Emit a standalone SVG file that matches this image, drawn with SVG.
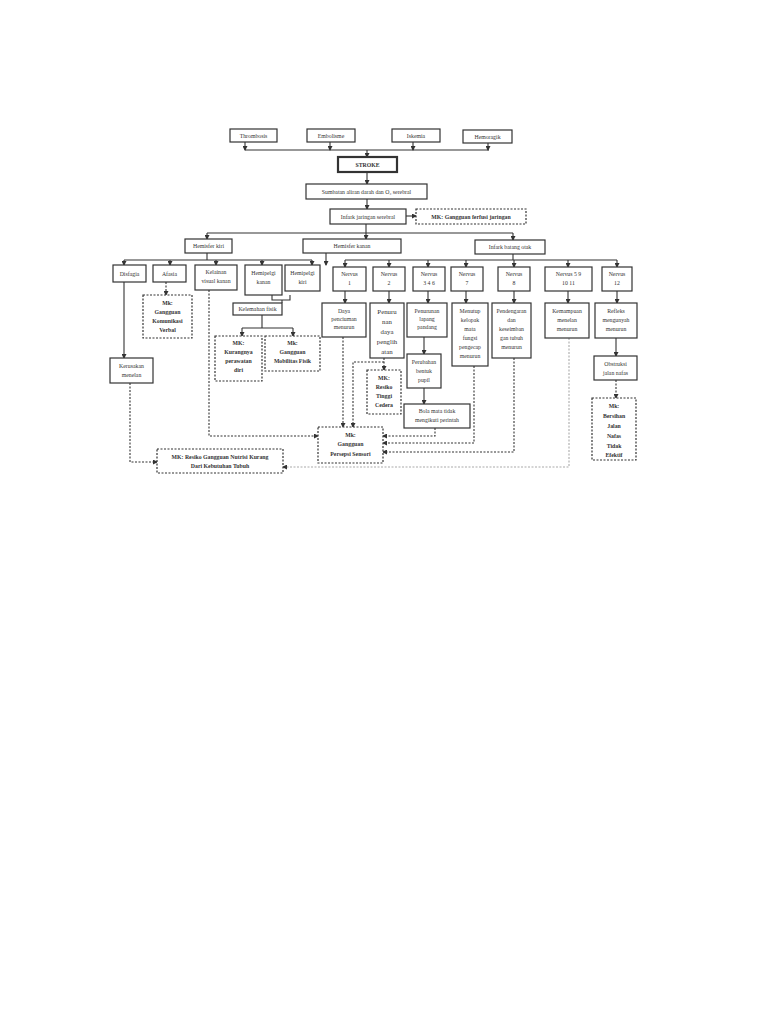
<svg xmlns="http://www.w3.org/2000/svg" width="768" height="1024" viewBox="0 0 768 1024">
<style>
rect{fill:#fff;stroke:#333;stroke-width:1.2}
rect.d{stroke-dasharray:2,1.5}
rect.t{stroke-width:2.2}
text{font-family:"Liberation Serif",serif;font-size:5.8px;fill:#333;text-anchor:middle}
text.b{font-weight:bold}
.c path{fill:none;stroke:#333;stroke-width:1.1}
.c path.d{stroke-dasharray:2,1.5}
.c path.l{stroke:#aaa;stroke-dasharray:2,1.5}
</style>
<defs><marker id="a" markerWidth="5" markerHeight="5" refX="4" refY="2.5" orient="auto" markerUnits="userSpaceOnUse"><path d="M0,0L5,2.5L0,5z" fill="#333"/></marker></defs>
<rect width="768" height="1024" style="fill:#fff;stroke:none"/>
<g class="c">
<path d="M245,142V150" marker-end="url(#a)"/><path d="M330,142V150" marker-end="url(#a)"/><path d="M413,142V150" marker-end="url(#a)"/><path d="M488,143V150" marker-end="url(#a)"/><path d="M245,150H489"/>
<path d="M367,150V157" marker-end="url(#a)"/>
<path d="M367,172V184" marker-end="url(#a)"/>
<path d="M367,199V209" marker-end="url(#a)"/>
<path d="M406,216H416" marker-end="url(#a)"/>
<path d="M366,224V233M207,233H513"/>
<path d="M207,233V239" marker-end="url(#a)"/><path d="M366,233V239" marker-end="url(#a)"/><path d="M513,233V240" marker-end="url(#a)"/>
<path d="M207,253V260M124,260H312"/>
<path d="M124,260V265" marker-end="url(#a)"/><path d="M170,260V265" marker-end="url(#a)"/><path d="M216,260V265" marker-end="url(#a)"/><path d="M262,260V265" marker-end="url(#a)"/><path d="M312,260V265" marker-end="url(#a)"/>
<path d="M326,253V265" marker-end="url(#a)"/>
<path d="M513,254V260M345,260H617"/>
<path d="M345,260V267" marker-end="url(#a)"/><path d="M389,260V267" marker-end="url(#a)"/><path d="M428,260V267" marker-end="url(#a)"/><path d="M466,260V267" marker-end="url(#a)"/><path d="M514,260V267" marker-end="url(#a)"/><path d="M568,260V267" marker-end="url(#a)"/><path d="M617,260V267" marker-end="url(#a)"/>
<path d="M124,282V358" marker-end="url(#a)"/>
<path class="d" d="M166,282V295" marker-end="url(#a)"/>
<path class="d" d="M209,290V436H318" marker-end="url(#a)"/>
<path d="M272,295V300H290V295M282,300V303"/>
<path d="M262,315V328M242,328H293"/>
<path d="M242,328V336" marker-end="url(#a)"/><path d="M293,328V336" marker-end="url(#a)"/>
<path class="d" d="M130,383V462H157" marker-end="url(#a)"/>
<path d="M345,291V303" marker-end="url(#a)"/><path d="M389,291V303" marker-end="url(#a)"/><path d="M428,291V303" marker-end="url(#a)"/><path d="M466,291V303" marker-end="url(#a)"/><path d="M514,291V303" marker-end="url(#a)"/><path d="M568,291V303" marker-end="url(#a)"/><path d="M617,291V303" marker-end="url(#a)"/>
<path class="d" d="M343,337V427" marker-end="url(#a)"/>
<path class="d" d="M384,358V370" marker-end="url(#a)"/>
<path class="d" d="M384,362H353V427" marker-end="url(#a)"/>
<path d="M424,337V354" marker-end="url(#a)"/>
<path d="M424,388V404" marker-end="url(#a)"/>
<path class="d" d="M435,428V436H383" marker-end="url(#a)"/>
<path class="d" d="M474,366V443H383" marker-end="url(#a)"/>
<path class="d" d="M514,358V452H383" marker-end="url(#a)"/>
<path class="l" d="M569,338V467H283" marker-end="url(#a)"/>
<path d="M616,338V356" marker-end="url(#a)"/>
<path class="d" d="M616,380V398" marker-end="url(#a)"/>
</g>
<g id="thrombosis"><rect x="230" y="129" width="47" height="13"/><text x="253.5" y="137.5">Thrombosis</text></g>
<g id="embolisme"><rect x="307" y="129" width="48" height="13"/><text x="331" y="137.5">Embolisme</text></g>
<g id="iskemia"><rect x="392" y="129" width="48" height="13"/><text x="416" y="137.5">Iskemia</text></g>
<g id="hemoragik"><rect x="463" y="130" width="49" height="13"/><text x="487.5" y="138.5">Hemoragik</text></g>
<g id="stroke"><rect class="t" x="338" y="157" width="59" height="15"/><text class="b" x="367.5" y="166.5">STROKE</text></g>
<g id="sumbatan"><rect x="306" y="184" width="121" height="15"/><text x="366.5" y="193.5">Sumbatan aliran darah dan O₂ serebral</text></g>
<g id="infark"><rect x="330" y="209" width="76" height="15"/><text x="368" y="218.5">Infark jaringan serebral</text></g>
<g id="mk-perfusi"><rect class="d" x="416" y="209" width="110" height="15"/><text class="b" x="471" y="218.5">MK: Gangguan ferfusi jaringan</text></g>
<g id="hemisfer-kiri"><rect x="185" y="239" width="47" height="14"/><text x="208.5" y="248">Hemisfer kiri</text></g>
<g id="hemisfer-kanan"><rect x="303" y="239" width="98" height="14"/><text x="352" y="248">Hemisfer kanan</text></g>
<g id="infark-batang"><rect x="475" y="240" width="70" height="14"/><text x="510" y="249">Infark batang otak</text></g>
<g id="disfagia"><rect x="113" y="265" width="33" height="17"/><text x="129.5" y="275.5">Disfagia</text></g>
<g id="afasia"><rect x="153" y="265" width="33" height="17"/><text x="169.5" y="275.5">Afasia</text></g>
<g id="kelainan"><rect x="195" y="265" width="42" height="25"/><text x="216" y="274">Kelainan</text><text x="216" y="283">visual kanan</text></g>
<g id="hemi-kanan"><rect x="245" y="265" width="37" height="30"/><text x="263.5" y="275">Hemipelgi</text><text x="263.5" y="284">kanan</text></g>
<g id="hemi-kiri"><rect x="285" y="265" width="35" height="26"/><text x="302.5" y="275">Hemipelgi</text><text x="302.5" y="284">kiri</text></g>
<g id="n1"><rect x="333" y="267" width="33" height="24"/><text x="349.5" y="276">Nervus</text><text x="349.5" y="285">1</text></g>
<g id="n2"><rect x="373" y="267" width="32" height="24"/><text x="389" y="276">Nervus</text><text x="389" y="285">2</text></g>
<g id="n346"><rect x="413" y="267" width="32" height="24"/><text x="429" y="276">Nervus</text><text x="429" y="285">3 4 6</text></g>
<g id="n7"><rect x="451" y="267" width="32" height="24"/><text x="467" y="276">Nervus</text><text x="467" y="285">7</text></g>
<g id="n8"><rect x="498" y="267" width="32" height="24"/><text x="514" y="276">Nervus</text><text x="514" y="285">8</text></g>
<g id="n591011"><rect x="545" y="267" width="47" height="24"/><text x="568.5" y="276">Nervus 5 9</text><text x="568.5" y="285">10 11</text></g>
<g id="n12"><rect x="602" y="267" width="30" height="24"/><text x="617" y="276">Nervus</text><text x="617" y="285">12</text></g>
<g id="mk-verbal"><rect class="d" x="143" y="295" width="49" height="43"/><text class="b" x="167.5" y="305">Mk:</text><text class="b" x="167.5" y="314">Gangguan</text><text class="b" x="167.5" y="323">Komunikasi</text><text class="b" x="167.5" y="332">Verbal</text></g>
<g id="kelemahan"><rect x="233" y="303" width="49" height="12"/><text x="257.5" y="311">Kelemahan fisik</text></g>
<g id="mk-perawatan"><rect class="d" x="215" y="336" width="47" height="45"/><text class="b" x="238.5" y="345">MK:</text><text class="b" x="238.5" y="354">Kurangnya</text><text class="b" x="238.5" y="363">perawatan</text><text class="b" x="238.5" y="372">diri</text></g>
<g id="mk-mobilitas"><rect class="d" x="265" y="336" width="55" height="35"/><text class="b" x="292.5" y="345">Mk:</text><text class="b" x="292.5" y="354">Gangguan</text><text class="b" x="292.5" y="363">Mobilitas Fisik</text></g>
<g id="kerusakan"><rect x="110" y="358" width="43" height="25"/><text x="131.5" y="368">Kerusakan</text><text x="131.5" y="377">menelan</text></g>
<g id="penciuman"><rect x="322" y="303" width="44" height="34"/><text x="344" y="313">Daya</text><text x="344" y="321">penciuman</text><text x="344" y="329">menurun</text></g>
<g id="penglihatan"><rect x="370" y="303" width="34" height="55"/><text x="387" y="314" style="font-size:6.8px">Penuru</text><text x="387" y="324" style="font-size:6.8px">nan</text><text x="387" y="334" style="font-size:6.8px">daya</text><text x="387" y="344" style="font-size:6.8px">penglih</text><text x="387" y="354" style="font-size:6.8px">atan</text></g>
<g id="lapang"><rect x="407" y="303" width="40" height="34"/><text x="427" y="313">Penurunan</text><text x="427" y="321">lapang</text><text x="427" y="329">pandang</text></g>
<g id="kelopak"><rect x="452" y="303" width="36" height="63"/><text x="470" y="313">Menutup</text><text x="470" y="322">kelopak</text><text x="470" y="331">mata</text><text x="470" y="340">fungsi</text><text x="470" y="349">pengecap</text><text x="470" y="358">menurun</text></g>
<g id="pendengaran"><rect x="492" y="303" width="39" height="55"/><text x="511.5" y="313">Pendengaran</text><text x="511.5" y="322">dan</text><text x="511.5" y="331">keseimban</text><text x="511.5" y="340">gan tubuh</text><text x="511.5" y="349">menurun</text></g>
<g id="menelan"><rect x="545" y="303" width="44" height="35"/><text x="567" y="313">Kemampuan</text><text x="567" y="322">menelan</text><text x="567" y="331">menurun</text></g>
<g id="refleks"><rect x="595" y="303" width="42" height="35"/><text x="616" y="313">Refleks</text><text x="616" y="322">mengunyah</text><text x="616" y="331">menurun</text></g>
<g id="pupil"><rect x="407" y="354" width="34" height="34"/><text x="424" y="364">Perubahan</text><text x="424" y="373">bentuk</text><text x="424" y="382">pupil</text></g>
<g id="mk-cedera"><rect class="d" x="367" y="370" width="34" height="44"/><text class="b" x="384" y="380">MK:</text><text class="b" x="384" y="389">Resiko</text><text class="b" x="384" y="398">Tinggi</text><text class="b" x="384" y="407">Cedera</text></g>
<g id="bola-mata"><rect x="404" y="404" width="66" height="24"/><text x="437" y="413">Bola mata tidak</text><text x="437" y="422">mengikuti perintah</text></g>
<g id="obstruksi"><rect x="594" y="356" width="43" height="24"/><text x="615.5" y="366">Obstruksi</text><text x="615.5" y="375">jalan nafas</text></g>
<g id="mk-bersihan"><rect class="d" x="592" y="398" width="44" height="62"/><text class="b" x="614" y="408">Mk:</text><text class="b" x="614" y="418">Bersihan</text><text class="b" x="614" y="428">Jalan</text><text class="b" x="614" y="438">Nafas</text><text class="b" x="614" y="448">Tidak</text><text class="b" x="614" y="457">Efektif</text></g>
<g id="mk-persepsi"><rect class="d" x="318" y="427" width="65" height="36"/><text class="b" x="350.5" y="437">Mk:</text><text class="b" x="350.5" y="446">Gangguan</text><text class="b" x="350.5" y="456">Persepsi Sensori</text></g>
<g id="mk-nutrisi"><rect class="d" x="157" y="449" width="126" height="24"/><text class="b" x="220" y="459">MK: Resiko Gangguan Nutrisi Kurang</text><text class="b" x="220" y="468">Dari Kebutuhan Tubuh</text></g>
</svg>
